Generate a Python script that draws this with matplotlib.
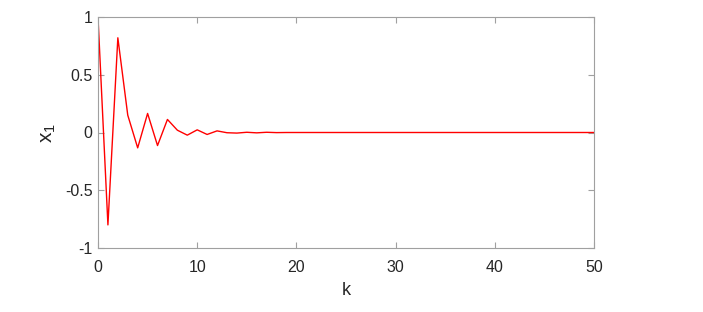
import matplotlib
matplotlib.use("Agg")
import matplotlib.pyplot as plt
import numpy as np

k = list(range(0, 51))
x1_head = [1.0, -0.80, 0.82, 0.15, -0.133, 0.165, -0.113, 0.113, 0.02, -0.023,
           0.023, -0.017, 0.014, -0.002, -0.005, 0.002, -0.003, 0.002, -0.001, 0.0]
x1 = x1_head + [0.0] * (len(k) - len(x1_head))

plt.rcParams['font.family'] = ['Liberation Sans', 'DejaVu Sans']
plt.rcParams['mathtext.fontset'] = 'custom'
plt.rcParams['mathtext.rm'] = 'Liberation Sans'
plt.rcParams['mathtext.it'] = 'Liberation Sans:italic'
fig = plt.figure(figsize=(7.03, 3.12), dpi=100)
ax = fig.add_axes([98/703, 64/312, 496/703, 231/312])
ax.plot(k, x1, color='red', linewidth=1.0)
ax.set_xlim(0, 50)
ax.set_ylim(-1, 1)
ax.set_xticks([0, 10, 20, 30, 40, 50])
ax.set_yticks([-1, -0.5, 0, 0.5, 1])
ax.set_yticklabels(['-1', '-0.5', '0', '0.5', '1'])
gray = '#262626'
for s in ax.spines.values():
    s.set_color('#a0a0a0')
    s.set_linewidth(0.8)
ax.tick_params(direction='in', length=4, width=0.8, colors='#a0a0a0',
               labelcolor=gray, labelsize=11.5, top=True, right=True,
               labeltop=False, labelright=False)
ax.tick_params(axis='x', pad=8.5)
ax.tick_params(axis='y', pad=4)
ax.set_xlabel('k', fontsize=13, color=gray, labelpad=5)
ax.set_ylabel(r'$\mathrm{x}_1$', fontsize=15, color=gray, labelpad=5)
fig.savefig('out.png', dpi=100)
